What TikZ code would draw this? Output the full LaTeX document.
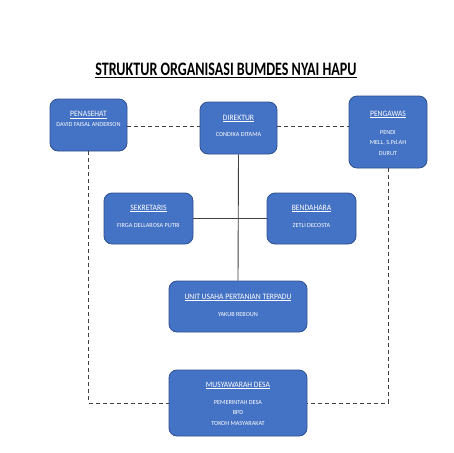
\documentclass[tikz,border=0pt]{standalone}
\usepackage{fontspec}
\setmainfont{Carlito}
\usetikzlibrary{calc}
\definecolor{boxfill}{HTML}{4472C4}
\definecolor{boxline}{HTML}{2F528F}
\definecolor{conn}{HTML}{404040}
\tikzset{
  orgbox/.style={draw=boxline, line width=0.8pt, fill=boxfill, rounded corners=8pt, inner sep=0pt},
  hdrtext/.style={text=white, inner sep=0pt, anchor=base, font=\fontsize{8.2}{10}\selectfont},
  boxtext/.style={text=white, align=center, inner sep=0pt, font=\fontsize{6.2}{10.7}\selectfont},
  solidconn/.style={draw=conn, line width=0.9pt},
  dashconn/.style={draw=conn, line width=0.8pt, dash pattern=on 4pt off 3pt},
}
\newcommand{\hd}[1]{\scalebox{0.93}[1]{\underline{#1}}}
\begin{document}
\begin{tikzpicture}[x=1pt,y=-1pt]
\useasboundingbox[fill=white] (0,0) rectangle (453,453);
\node (title) at (226,70) {\scalebox{0.74}[1]{\fontsize{19}{22}\selectfont\bfseries\underline{STRUKTUR ORGANISASI BUMDES NYAI HAPU}}};
% boxes
\node[orgbox, minimum width=77pt, minimum height=52pt] (pen) at (88.5,125) {};
\node[orgbox, minimum width=77pt, minimum height=52pt] (dir) at (238.5,128) {};
\node[orgbox, minimum width=78pt, minimum height=72pt] (peng) at (388,132) {};
\node[orgbox, minimum width=89pt, minimum height=51pt] (sek) at (148.5,218.5) {};
\node[orgbox, minimum width=89pt, minimum height=51pt] (ben) at (311.5,218.5) {};
\node[orgbox, minimum width=138pt, minimum height=51pt] (unit) at (238,306.5) {};
\node[orgbox, minimum width=138pt, minimum height=66pt] (mus) at (238,403) {};
% headers
\node[hdrtext] (penH) at (88.5,116.5) {\hd{PENASEHAT}};
\node[hdrtext] (dirH) at (238.5,120) {\hd{DIREKTUR}};
\node[hdrtext] (pengH) at (388,116) {\hd{PENGAWAS}};
\node[hdrtext] (sekH) at (148.5,210) {\hd{SEKRETARIS}};
\node[hdrtext] (benH) at (311.5,210) {\hd{BENDAHARA}};
\node[hdrtext] (unitH) at (238,299) {\hd{UNIT USAHA PERTANIAN TERPADU}};
\node[hdrtext] (musH) at (238,387) {\hd{MUSYAWARAH DESA}};
% bodies
\node[boxtext] (penB) at (88.5,124.5) {DAVID FAISAL ANDERSON};
\node[boxtext] (dirB) at (238.5,135) {CONDIKA DITAMA};
\node[boxtext] (pengB) at (388,143) {PENDI\\MELL, S.Pd.AH\\DURUT};
\node[boxtext] (sekB) at (148.5,225.5) {FIRGA DELLAROSA PUTRI};
\node[boxtext] (benB) at (311.5,225.5) {ZETLI DECOSTA};
\node[boxtext] (unitB) at (238,315) {YAKUB REBOUN};
\node[boxtext] (musB) at (238,413) {PEMERINTAH DESA\\BPD\\TOKOH MASYARAKAT};
% connectors
\draw[solidconn] (dir.south) -- (unit.north);
\draw[solidconn] (sek.east) -- (ben.west);
\draw[dashconn] (pen.east |- 0,126) -- (dir.west |- 0,126);
\draw[dashconn] (dir.east |- 0,126) -- (peng.west |- 0,126);
\coordinate (bl) at (pen.south |- mus.west);
\coordinate (br) at (peng.south |- mus.east);
\draw[dashconn] (pen.south) -- (bl) -- (mus.west);
\draw[dashconn] (peng.south) -- (br) -- (mus.east);
\end{tikzpicture}
\end{document}
